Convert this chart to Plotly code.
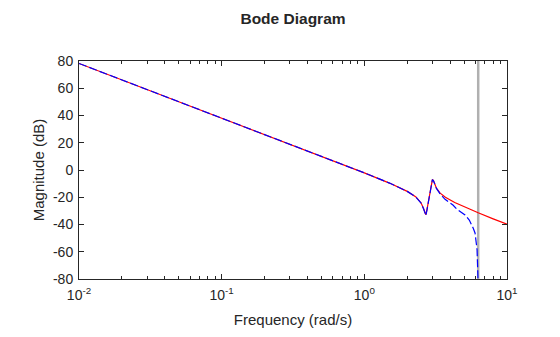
import plotly.graph_objects as go

# Continuous-time response
freq_cont = [0.01, 0.1, 1, 1.5, 2, 2.3, 2.5, 2.6, 2.65, 2.7, 2.75, 2.8, 2.85, 2.9,
             2.95, 3.0, 3.05, 3.1, 3.2, 3.4, 3.7, 4.3, 5, 6.28, 8, 10]
mag_cont = [78.2, 38.2, -2.1, -9.6, -15.7, -19.8, -24.2, -28.2, -31.2, -32.8, -28.9,
            -23.7, -19.0, -14.4, -9.9, -7.0, -7.7, -9.8, -13.2, -17.0, -20.0, -23.9,
            -27.1, -31.4, -35.9, -39.8]

# Discrete-time response, ends at the Nyquist frequency
freq_disc = [0.01, 0.1, 1, 1.5, 2, 2.3, 2.5, 2.6, 2.65, 2.7, 2.75, 2.8, 2.85, 2.9,
             2.95, 3.0, 3.05, 3.1, 3.2, 3.4, 3.68, 4.18, 4.46, 5.08, 5.44, 5.8,
             5.97, 6.17, 6.22, 6.26, 6.283]
mag_disc = [78.2, 38.2, -2.1, -9.6, -15.7, -19.9, -24.3, -28.4, -31.6, -33.5, -29.2,
            -23.9, -19.1, -14.5, -10.0, -7.1, -7.8, -10.0, -13.5, -17.6, -21.5,
            -25.7, -28.8, -33.0, -36.7, -42.8, -46.2, -58.7, -66.0, -80.0, -140.0]

nyquist_freq = 6.2832
y_range = [-80, 80]
x_tick_vals = [0.01, 0.1, 1, 10]
x_tick_text = ["10<sup>-2</sup>", "10<sup>-1</sup>", "10<sup>0</sup>", "10<sup>1</sup>"]
y_tick_vals = [-80, -60, -40, -20, 0, 20, 40, 60, 80]
y_tick_text = ["-80", "-60", "-40", "-20", "0", "20", "40", "60", "80"]

minor_vals = [m * 10 ** e for e in (-2, -1, 0) for m in range(2, 10)]

fig = go.Figure()
fig.add_trace(go.Scatter(x=[nyquist_freq, nyquist_freq], y=y_range, mode="lines",
                         line=dict(color="#b0b0b0", width=2.5), showlegend=False,
                         hoverinfo="skip"))
fig.add_trace(go.Scatter(x=freq_cont, y=mag_cont, mode="lines",
                         line=dict(color="#ff0000", width=1.2), showlegend=False))
fig.add_trace(go.Scatter(x=freq_disc, y=mag_disc, mode="lines",
                         line=dict(color="#0000ff", width=1.2, dash="8px,3px"),
                         showlegend=False))

axis_common = dict(showline=True, linecolor="#262626", linewidth=1, mirror="allticks",
                   ticks="inside", ticklen=5, tickcolor="#262626", showgrid=False,
                   zeroline=False, tickfont=dict(size=14, color="#262626"))

fig.update_layout(
    width=560, height=337,
    margin=dict(l=79, r=53, t=61, b=58),
    paper_bgcolor="white", plot_bgcolor="white",
    font=dict(family="Liberation Sans, Arial, sans-serif", color="#262626"),
    title=dict(text="<b>Bode Diagram</b>", x=293 / 560,
               xanchor="center", y=1 - 19 / 337, yanchor="middle",
               font=dict(size=15.5, color="#262626")),
    xaxis=dict(type="log", range=[-2, 1], tickmode="array", tickvals=x_tick_vals,
               ticktext=x_tick_text, ticklabelstandoff=3,
               title=dict(text="Frequency (rad/s)", font=dict(size=15), standoff=12),
               minor=dict(ticks="inside", ticklen=3, tickcolor="#262626",
                          tickmode="array", tickvals=minor_vals, showgrid=False),
               **axis_common),
    yaxis=dict(range=y_range, tickmode="array", tickvals=y_tick_vals,
               ticktext=y_tick_text, ticklabelstandoff=2,
               title=dict(text="Magnitude (dB)", font=dict(size=15), standoff=4),
               **axis_common),
)

fig.write_html("out.html")
